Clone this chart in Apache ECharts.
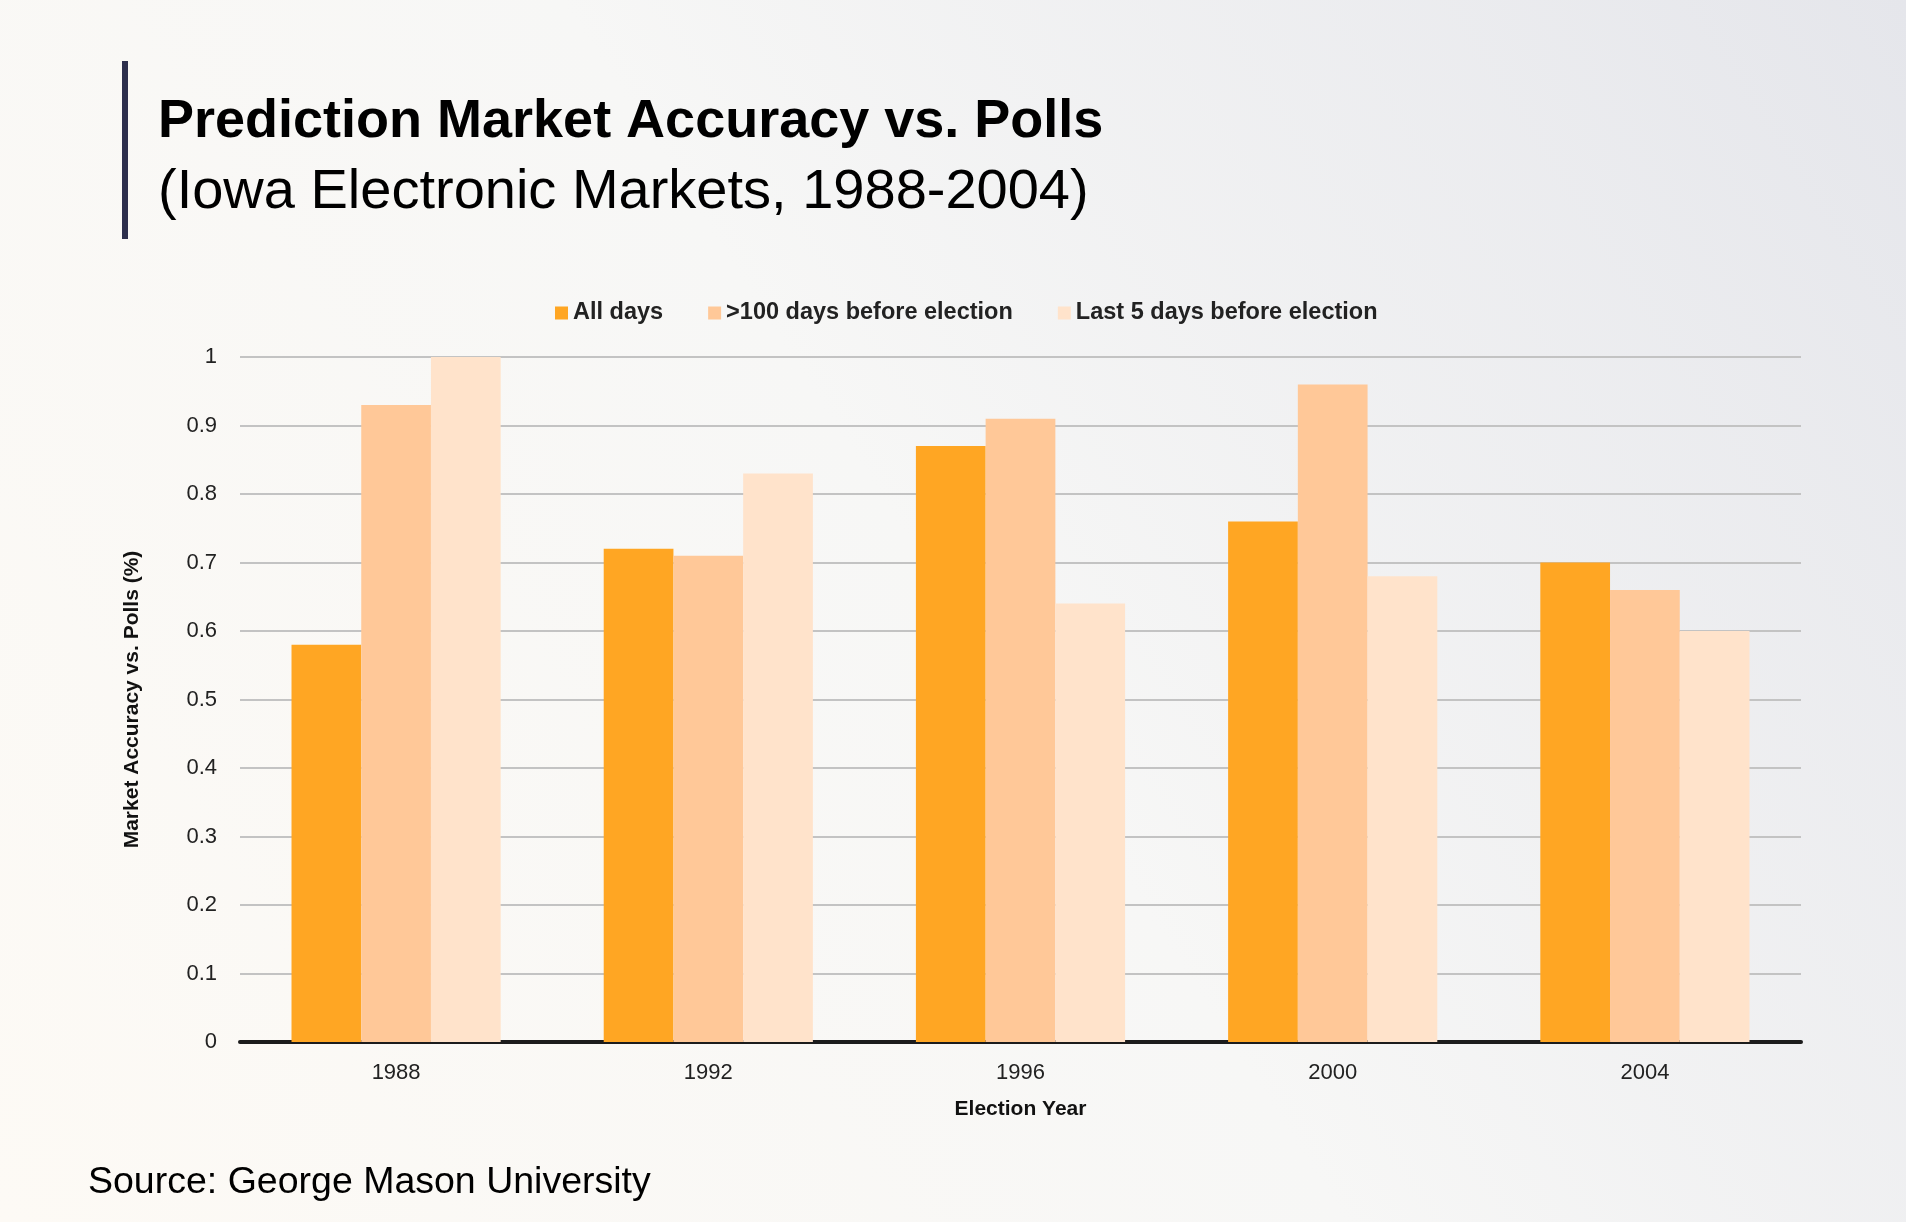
<!DOCTYPE html>
<html>
<head>
<meta charset="utf-8">
<title>Prediction Market Accuracy vs. Polls</title>
<script src="https://cdn.jsdelivr.net/npm/echarts@6/dist/echarts.min.js"></script>
<style>
  html, body { margin: 0; padding: 0; }
  #chart { width: 1906px; height: 1222px; }
</style>
</head>
<body>
<div id="chart"></div>
<script>
// data
var years = ["1988", "1992", "1996", "2000", "2004"];
var allDays = [0.58, 0.72, 0.87, 0.76, 0.70];
var over100Days = [0.93, 0.71, 0.91, 0.96, 0.66];
var last5Days = [1.0, 0.83, 0.64, 0.68, 0.60];
var seriesNames = ["All days", ">100 days before election", "Last 5 days before election"];
var seriesColors = ["#FFA623", "#FFC898", "#FFE3CB"];

var FONT = "'Liberation Sans', Arial, Helvetica, sans-serif";

var myChart = echarts.init(document.getElementById("chart"));

myChart.setOption({
  backgroundColor: new echarts.graphic.LinearGradient(0, 1, 1, 0, [
    { offset: 0, color: "#FDFAF5" },
    { offset: 0.5, color: "#F7F7F6" },
    { offset: 1, color: "#E5E6EB" }
  ]),
  textStyle: { fontFamily: FONT },
  graphic: [
    {
      type: "rect",
      shape: { x: 122, y: 61, width: 6, height: 178 },
      style: { fill: "#2D2F4D" }
    },
    {
      type: "text",
      style: {
        x: 158, y: 122,
        text: "Prediction Market Accuracy vs. Polls",
        font: "bold 54px " + FONT,
        fill: "#000",
        verticalAlign: "middle"
      }
    },
    {
      type: "text",
      style: {
        x: 158, y: 193,
        text: "(Iowa Electronic Markets, 1988-2004)",
        font: "56px " + FONT,
        fill: "#000",
        verticalAlign: "middle"
      }
    },
    {
      type: "text",
      style: {
        x: 88, y: 1183,
        text: "Source: George Mason University",
        font: "37.5px " + FONT,
        fill: "#000",
        verticalAlign: "middle"
      }
    }
  ],
  legend: {
    left: 550,
    top: 296,
    itemWidth: 13,
    itemHeight: 13,
    itemGap: 45,
    icon: "rect",
    textStyle: { fontSize: 23.5, fontWeight: "bold", color: "#222", fontFamily: FONT },
    data: seriesNames
  },
  grid: {
    left: 240,
    right: 105,
    top: 357,
    bottom: 180
  },
  xAxis: {
    type: "category",
    data: years,
    name: "Election Year",
    nameLocation: "middle",
    nameGap: 57,
    nameTextStyle: { fontSize: 21, fontWeight: "bold", color: "#111" },
    axisLine: { show: true, lineStyle: { color: "#1c1c1c", width: 4 } },
    axisTick: { show: false },
    axisLabel: { fontSize: 22, color: "#222", margin: 20 }
  },
  yAxis: {
    type: "value",
    min: 0,
    max: 1,
    interval: 0.1,
    name: "Market Accuracy vs. Polls (%)",
    nameLocation: "middle",
    nameRotate: 90,
    nameGap: 97,
    nameTextStyle: { fontSize: 21, fontWeight: "bold", color: "#111" },
    axisLine: { show: false },
    axisTick: { show: false },
    axisLabel: { fontSize: 22, color: "#222", margin: 23 },
    splitLine: { show: true, lineStyle: { color: "#C3C3C3", width: 2 } }
  },
  series: [
    {
      name: seriesNames[0],
      type: "bar",
      data: allDays,
      barGap: "0%",
      barCategoryGap: "33%",
      itemStyle: { color: seriesColors[0] }
    },
    {
      name: seriesNames[1],
      type: "bar",
      data: over100Days,
      barGap: "0%",
      barCategoryGap: "33%",
      itemStyle: { color: seriesColors[1] }
    },
    {
      name: seriesNames[2],
      type: "bar",
      data: last5Days,
      barGap: "0%",
      barCategoryGap: "33%",
      itemStyle: { color: seriesColors[2] }
    }
  ]
});
</script>
</body>
</html>
